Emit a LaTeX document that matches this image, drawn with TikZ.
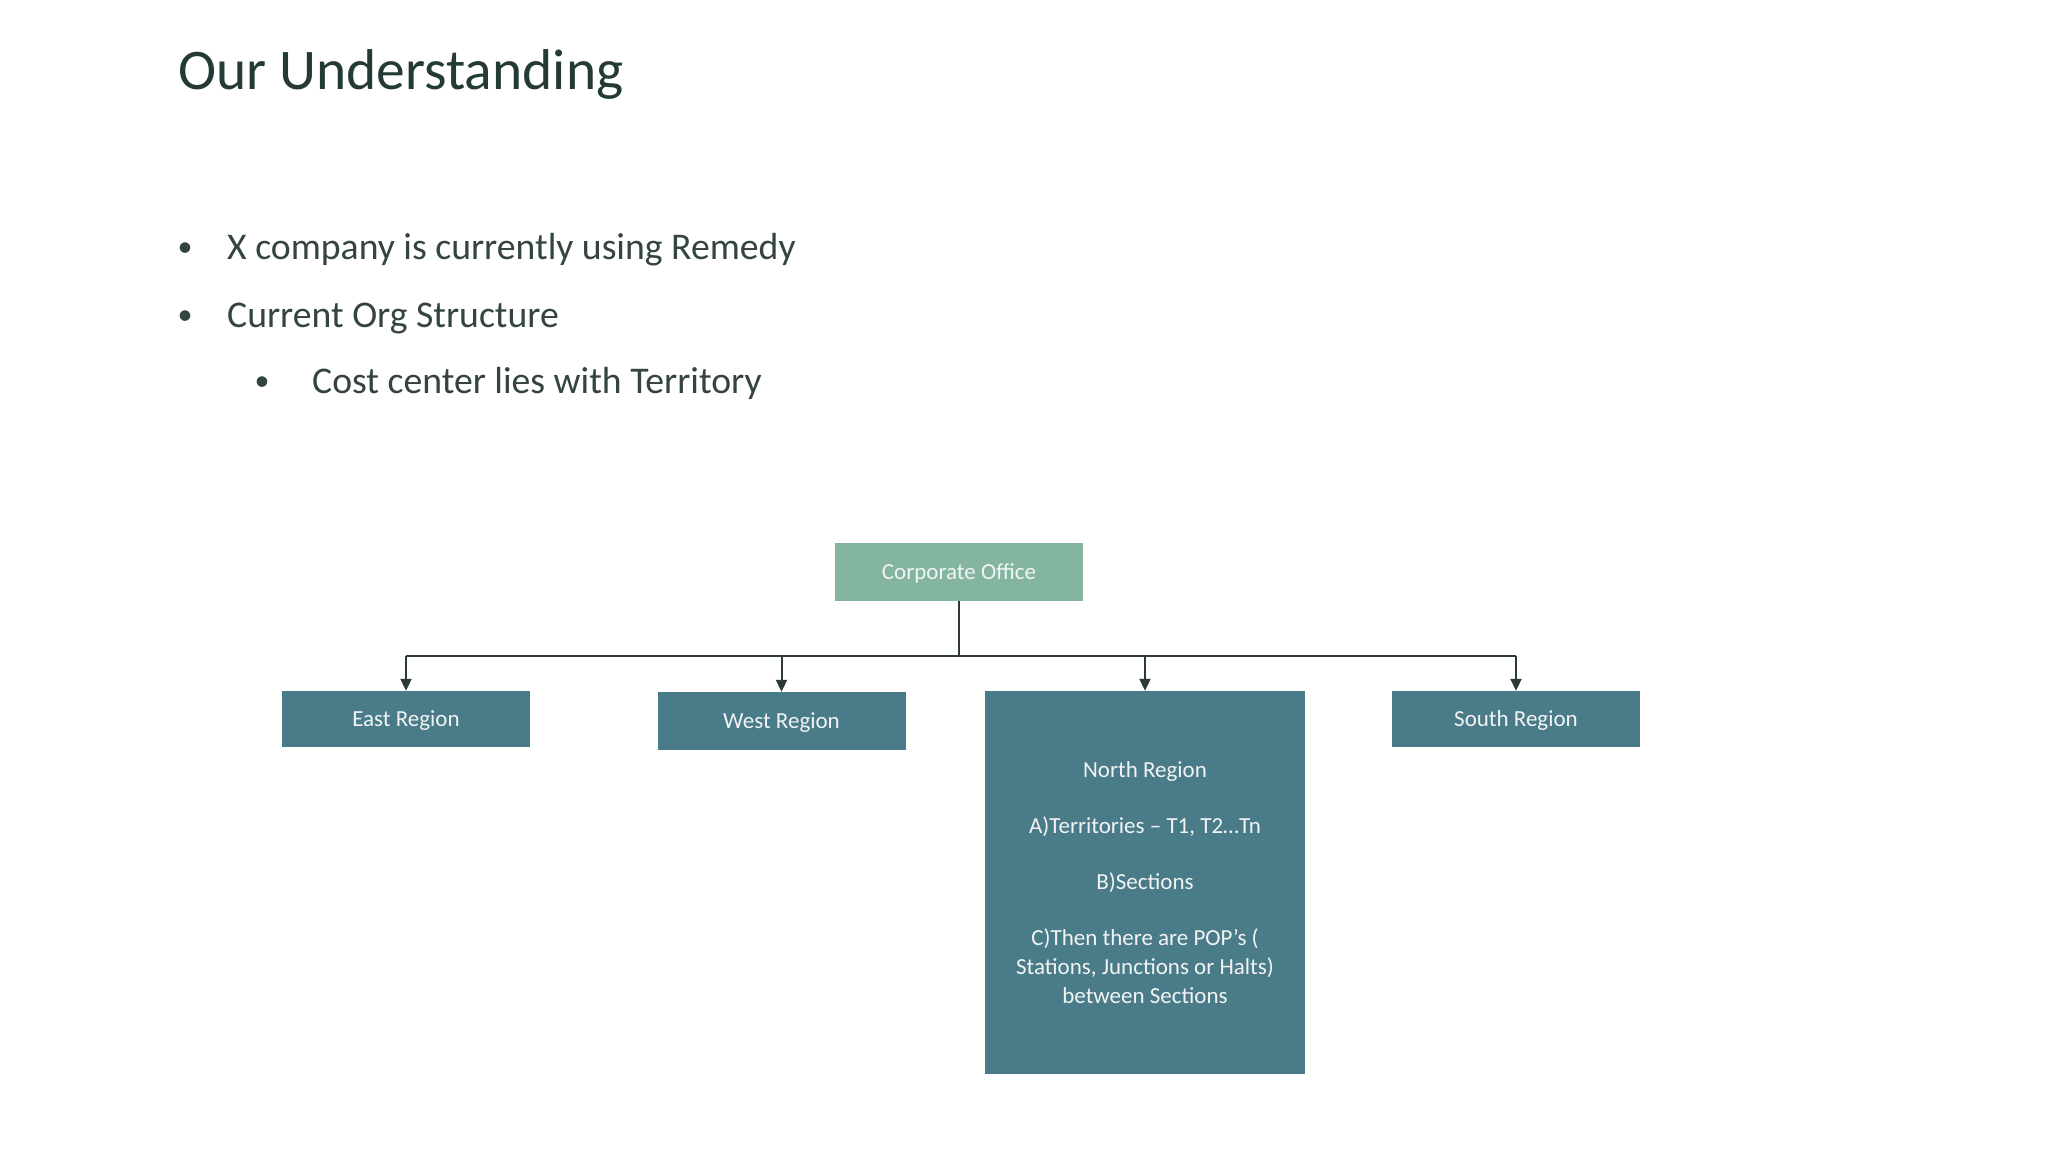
\documentclass[tikz,border=0pt]{standalone}
\usepackage{fontspec}
\setmainfont{Carlito}
\usetikzlibrary{arrows.meta}
\definecolor{titlecol}{HTML}{243A37}
\definecolor{bodycol}{HTML}{34443F}
\definecolor{tealbox}{HTML}{4A7B88}
\definecolor{greenbox}{HTML}{84B5A0}
\definecolor{linecol}{HTML}{2B3A38}
\definecolor{boxtext}{HTML}{F2F4F4}
\tikzset{
  regionbox/.style={rectangle, fill=tealbox, text=boxtext, inner sep=0pt,
    minimum width=248pt, minimum height=56pt, font=\fontsize{23}{28.7}\selectfont},
  onelinebox/.style={regionbox, text height=15pt, text depth=0pt},
  bodytext/.style={anchor=base west, inner sep=0pt, text=bodycol, font=\fontsize{37.7}{45}\selectfont},
  bulletdot/.style={anchor=base, inner sep=0pt, text=bodycol, font=\fontsize{30}{36}\selectfont},
  conn/.style={draw=linecol, line width=2pt},
  arr/.style={conn, -{Triangle[length=12pt,width=11pt]}}
}
\begin{document}
\begin{tikzpicture}[x=1pt,y=-1pt]
\useasboundingbox[fill=white] (0,0) rectangle (2048,1152);
% title
\node[anchor=base west, inner sep=0pt, text=titlecol, font=\fontsize{57.5}{60}\selectfont] (title) at (178,89) {Our Understanding};
% bullets
\node[bulletdot] (b1) at (185,256) {•};
\node[bodytext] (t1) at (227,259) {X company is currently using Remedy};
\node[bulletdot] (b2) at (185,324) {•};
\node[bodytext] (t2) at (227,327) {Current Org Structure};
\node[bulletdot] (b3) at (262,390) {•};
\node[bodytext] (t3) at (312,393) {Cost center lies with Territory};
% org chart
\node[onelinebox, fill=greenbox, minimum height=58pt] (corp) at (959,572) {Corporate Office};
\node[onelinebox] (east) at (406,719) {East Region};
\node[onelinebox, minimum height=58pt] (west) at (781.5,721) {West Region};
\node[regionbox, minimum width=320pt, minimum height=383pt, align=center] (north) at (1145,882.5)
  {North Region\\[27.3pt]A)Territories – T1, T2…Tn\\[27.3pt]B)Sections\\[27.3pt]C)Then there are POP’s (\\Stations, Junctions or Halts)\\between Sections};
\node[onelinebox] (south) at (1516,719) {South Region};
\coordinate (hub) at (959,656);
\coordinate (he) at (406,656);
\coordinate (hw) at (781.5,656);
\coordinate (hn) at (1145,656);
\coordinate (hs) at (1516,656);
\draw[conn] (corp.south) -- (hub);
\draw[conn] (he) -- (hs);
\draw[arr] (he) -- (east.north);
\draw[arr] (hw) -- (west.north);
\draw[arr] (hn) -- (north.north);
\draw[arr] (hs) -- (south.north);
\end{tikzpicture}
\end{document}
